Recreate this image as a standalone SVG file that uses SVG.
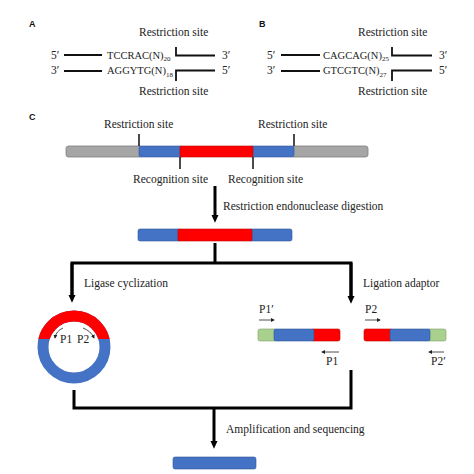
<svg xmlns="http://www.w3.org/2000/svg" width="474" height="474" viewBox="0 0 474 474">
<style>
.t{font-family:"Liberation Serif","Times New Roman",serif;font-size:11.5px;fill:#222}
.s{font-family:"Liberation Serif","Times New Roman",serif;font-size:10.5px;fill:#222}
.sub{font-size:7px}
.lab{font-family:"Liberation Sans",Arial,sans-serif;font-size:9px;font-weight:bold;fill:#111}
.dna{stroke:#111;stroke-width:1.8;fill:none}
.con{stroke:#000;stroke-width:3;fill:none}
.thin{stroke:#222;stroke-width:0.8;fill:none}
.gray{fill:#A6A6A6;stroke:#7F7F7F;stroke-width:0.8}
.blue{fill:#4472C4;stroke:#2F5597;stroke-width:0.6}
.red{fill:#FF0000;stroke:#C00000;stroke-width:0.6}
.green{fill:#A9D18E;stroke:#7F9F6A;stroke-width:0.6}
.tick{stroke:#111;stroke-width:1.5}
</style>
<defs>
<marker id="ah" viewBox="0 0 10 10" refX="4" refY="5" markerWidth="8" markerHeight="8" markerUnits="userSpaceOnUse" orient="auto">
<path d="M0,0.5 L10,5 L0,9.5 z" fill="#000"/>
</marker>
<marker id="sah" viewBox="0 0 10 10" refX="8" refY="5" markerWidth="4" markerHeight="4" markerUnits="userSpaceOnUse" orient="auto">
<path d="M0,0 L10,5 L0,10 z" fill="#222"/>
</marker>
<clipPath id="topclip"><rect x="0" y="0" width="474" height="339"/></clipPath>
</defs>

<g id="panelA">
<text class="lab" x="29" y="27">A</text>
<text class="t" x="139" y="36">Restriction site</text>
<text class="t" x="51" y="58.5">5′</text>
<line class="dna" x1="64" y1="55" x2="102" y2="55"/>
<text class="s" x="107" y="58.5">TCCRAC(N)<tspan class="sub" dy="2.5">20</tspan></text>
<path class="dna" d="M176,47 V55.5 H215"/>
<text class="t" x="222" y="58.5">3′</text>
<text class="t" x="51" y="74">3′</text>
<line class="dna" x1="64" y1="71" x2="102" y2="71"/>
<text class="s" x="107" y="74">AGGYTG(N)<tspan class="sub" dy="2.5">18</tspan></text>
<path class="dna" d="M215,70.5 H176 V81"/>
<text class="t" x="222" y="74">5′</text>
<text class="t" x="139" y="95">Restriction site</text>
</g>

<g id="panelB">
<text class="lab" x="259" y="27">B</text>
<text class="t" x="358" y="36">Restriction site</text>
<text class="t" x="267" y="58.5">5′</text>
<line class="dna" x1="281" y1="55" x2="320" y2="55"/>
<text class="s" x="323" y="58.5">CAGCAG(N)<tspan class="sub" dy="2.5">25</tspan></text>
<path class="dna" d="M392,47 V55.5 H432"/>
<text class="t" x="439" y="58.5">3′</text>
<text class="t" x="267" y="74">3′</text>
<line class="dna" x1="281" y1="71" x2="320" y2="71"/>
<text class="s" x="323" y="74">GTCGTC(N)<tspan class="sub" dy="2.5">27</tspan></text>
<path class="dna" d="M432,70.5 H392 V81"/>
<text class="t" x="439" y="74">5′</text>
<text class="t" x="358" y="95">Restriction site</text>
</g>

<g id="panelC-label">
<text class="lab" x="29" y="120">C</text>
</g>

<g id="genome">
<rect class="gray" x="66" y="146" width="76" height="11" rx="2.5"/>
<rect class="gray" x="291" y="146" width="77" height="11" rx="2.5"/>
<rect class="blue" x="139" y="146" width="44" height="11" rx="2"/>
<rect class="blue" x="250" y="146" width="44" height="11" rx="2"/>
<rect class="red" x="180" y="146" width="73" height="11" rx="1.5"/>
<line class="tick" x1="139" y1="134" x2="139" y2="146"/>
<line class="tick" x1="294" y1="134" x2="294" y2="146"/>
<line class="tick" x1="180" y1="157" x2="180" y2="169"/>
<line class="tick" x1="253" y1="157" x2="253" y2="169"/>
<text class="t" x="104" y="128">Restriction site</text>
<text class="t" x="258" y="128">Restriction site</text>
<text class="t" x="133" y="183">Recognition site</text>
<text class="t" x="228" y="183">Recognition site</text>
</g>

<g id="fragment">
<rect class="blue" x="138" y="229" width="43" height="12" rx="2"/>
<rect class="blue" x="249" y="229" width="43" height="12" rx="2"/>
<rect class="red" x="178" y="229" width="74" height="12" rx="1.5"/>
</g>

<g id="circle">
<circle cx="74" cy="347" r="31" fill="none" stroke="#4472C4" stroke-width="11"/>
<circle cx="74" cy="347" r="31" fill="none" stroke="#FF0000" stroke-width="11" clip-path="url(#topclip)"/>
<path class="thin" d="M63,328 Q56,331 55,338" marker-end="url(#sah)"/>
<path class="thin" d="M83,328 Q91,331 94,338" marker-end="url(#sah)"/>
<text class="t" x="60" y="343">P1</text>
<text class="t" x="77" y="343">P2</text>
</g>

<g id="adaptor1">
<rect class="green" x="258" y="329" width="19" height="12" rx="2"/>
<rect class="red" x="311" y="329" width="29" height="12" rx="2"/>
<rect class="blue" x="274" y="329" width="40" height="12" rx="2"/>
<text class="t" x="259" y="313">P1′</text>
<line class="thin" x1="259" y1="320" x2="274" y2="320" marker-end="url(#sah)"/>
<line class="thin" x1="339" y1="352" x2="322" y2="352" marker-end="url(#sah)"/>
<text class="t" x="326" y="365">P1</text>
</g>

<g id="adaptor2">
<rect class="red" x="364" y="329" width="29" height="12" rx="2"/>
<rect class="green" x="427" y="329" width="19" height="12" rx="2"/>
<rect class="blue" x="390" y="329" width="40" height="12" rx="2"/>
<text class="t" x="365" y="313">P2</text>
<line class="thin" x1="365" y1="320" x2="380" y2="320" marker-end="url(#sah)"/>
<line class="thin" x1="444" y1="352" x2="429" y2="352" marker-end="url(#sah)"/>
<text class="t" x="431" y="365">P2′</text>
</g>

<g id="result">
<rect class="blue" x="173" y="457" width="83" height="12" rx="2"/>
</g>

<g id="connectors">
<line class="con" x1="215" y1="186" x2="215" y2="218" marker-end="url(#ah)"/>
<text class="t" x="223" y="210">Restriction endonuclease digestion</text>
<path class="con" d="M215,243 V263"/>
<path class="con" d="M72,298 V263 H351 V298" />
<line class="con" x1="72" y1="263" x2="72" y2="298" marker-end="url(#ah)"/>
<line class="con" x1="351" y1="263" x2="351" y2="299" marker-end="url(#ah)"/>
<text class="t" x="84" y="287">Ligase cyclization</text>
<text class="t" x="363" y="287">Ligation adaptor</text>
<path class="con" d="M74,390 V408 H351 V370"/>
<line class="con" x1="214" y1="408" x2="214" y2="444" marker-end="url(#ah)"/>
<text class="t" x="226" y="433">Amplification and sequencing</text>
</g>
</svg>
